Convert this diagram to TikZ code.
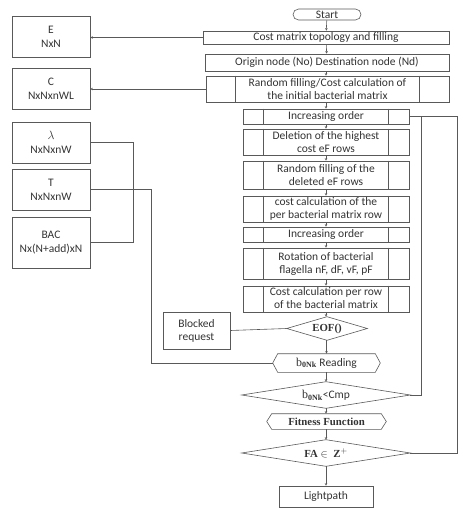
\documentclass[tikz,border=0pt]{standalone}
\usepackage{fontspec}
\setmainfont{Carlito}
\newfontfamily\serifb{Liberation Serif}
\usetikzlibrary{arrows.meta}
\definecolor{linec}{gray}{0.35}
\definecolor{txtc}{gray}{0.2}
\newcommand{\bnk}{{\serifb\fontsize{12}{13}\selectfont b\textsubscript{\bfseries 0Nk}}}
\begin{document}
\begin{tikzpicture}[x=1pt,y=-1pt,line width=0.6pt,
  every node/.style={font=\fontsize{11.5}{13}\selectfont,align=center,inner sep=0pt,text=txtc},
  box/.style={draw=linec,rectangle},
  ghost/.style={rectangle},
  conn/.style={draw=linec},
  sb/.style={font=\serifb\bfseries\fontsize{10.8}{12}\selectfont},
  arr/.style={draw=linec,-{Stealth[length=2.6pt,width=2.6pt]}},
  sbox/.style={box,minimum width=78pt,font=\fontsize{11.5}{14}\selectfont}]
\useasboundingbox (0,0) rectangle (474,518);

% left data boxes
\node[sbox,minimum height=41pt] (E) at (51,36.5) {E\\NxN};
\node[sbox,minimum height=41pt] (C) at (51,88.5) {C\\NxNxnWL};
\node[sbox,minimum height=41pt] (lam) at (51,142.5) {$\lambda$\\NxNxnW};
\node[sbox,minimum height=41pt] (T) at (51,189.5) {T\\NxNxnW};
\node[sbox,minimum height=51pt] (bac) at (51,242.5) {BAC\\Nx(N+add)xN};

% main flow
\node[box,rounded corners=5.5pt,minimum width=68pt,minimum height=11pt] (start) at (327,14.5) {Start};
\node[box,minimum width=246pt,minimum height=13pt] (cost) at (326,37.5) {Cost matrix topology and filling};
\node[box,minimum width=244pt,minimum height=17pt] (orig) at (327,62.5) {Origin node (No) Destination node (Nd)};
\node[box,minimum width=243pt,minimum height=26pt] (rand) at (327.5,89) {Random filling/Cost calculation of\\the initial bacterial matrix};
\node[box,minimum width=166pt,minimum height=15pt] (inc1) at (326,116.5) {Increasing order};
\node[box,minimum width=166pt,minimum height=26pt] (del) at (326,142) {Deletion of the highest\\cost eF rows};
\node[box,minimum width=166pt,minimum height=28pt] (rfd) at (326,175) {Random filling of the\\deleted eF rows};
\node[box,minimum width=166pt,minimum height=24pt] (cc) at (326,209) {\raisebox{-1.5pt}{\begin{tabular}{@{}c@{}}cost calculation of the\\per bacterial matrix row\end{tabular}}};
\node[box,minimum width=166pt,minimum height=15pt] (inc2) at (326,234.5) {Increasing order};
\node[box,minimum width=166pt,minimum height=31pt] (rot) at (326,263.5) {Rotation of bacterial\\flagella nF, dF, vF, pF};
\node[box,minimum width=166pt,minimum height=24pt] (ccr) at (326,299) {\raisebox{-1.5pt}{\begin{tabular}{@{}c@{}}Cost calculation per row\\of the bacterial matrix\end{tabular}}};
\node[ghost,sb,minimum width=80pt,minimum height=23pt] (eof) at (327,328.5) {EOF()};
\node[box,minimum width=67pt,minimum height=37pt] (blk) at (196.5,330.5) {Blocked\\request};
\node[ghost,minimum width=107pt,minimum height=18pt] (read) at (326.5,363) {\bnk\ Reading};
\node[ghost,minimum width=168pt,minimum height=26pt] (cmp) at (326,395) {\bnk{}<Cmp};
\node[ghost,sb,minimum width=119pt,minimum height=15pt] (fit) at (326.5,421.5) {Fitness Function};
\node[ghost,sb,minimum width=168pt,minimum height=26pt] (fa) at (326,453) {FA $\in$\ \ Z$^{+}$};
\node[box,minimum width=94pt,minimum height=21pt] (light) at (326,496.5) {Lightpath};

% inner bars of the process boxes
\foreach \n/\d in {rand/30,inc1/21,del/21,rfd/21,cc/21,inc2/21,rot/21,ccr/21}{
  \draw[linec] ([xshift=\d pt]\n.north west) -- ([xshift=\d pt]\n.south west);
  \draw[linec] ([xshift=-\d pt]\n.north east) -- ([xshift=-\d pt]\n.south east);
}

% diamonds
\foreach \n in {eof,cmp,fa}{
  \draw[linec] (\n.north) -- (\n.east) -- (\n.south) -- (\n.west) -- cycle;
}
% hexagons
\foreach \n in {read,fit}{
  \draw[linec] (\n.west) -- ([xshift=5pt]\n.north west) -- ([xshift=-5pt]\n.north east) -- (\n.east)
     -- ([xshift=-5pt]\n.south east) -- ([xshift=5pt]\n.south west) -- cycle;
}

% vertical flow
\draw[arr] (start) -- (cost);
\draw[arr] (cost) -- (orig);
\draw[arr] (orig.south -| cost) -- (rand.north -| cost);
\draw[arr] (rand.south -| cost) -- (inc1);
\draw[arr] (inc1) -- (del);
\draw[arr] (del) -- (rfd);
\draw[arr] (rfd) -- (cc);
\draw[arr] (cc) -- (inc2);
\draw[arr] (inc2) -- (rot);
\draw[arr] (rot) -- (ccr);
\draw[arr] (ccr.south) -- (eof.north -| ccr);
\draw[arr] (eof.south -| read) -- (read.north);
\draw[arr] (read.south -| cmp) -- (cmp.north);
\draw[arr] (cmp.south) -- (fit.north -| cmp);
\draw[arr] (fit.south -| fa) -- (fa.north);
\draw[arr] (fa) -- (light);

% data links
\draw[arr] (cost.west) -- (cost.west -| E.east);
\draw[arr] (rand.west) -- (rand.west -| C.east);
\draw[conn] (lam.east) -- ([xshift=43pt]lam.east) |- (bac.east);
\draw[conn] (T.east) -- ([xshift=61pt]T.east) |- (read.west);
\draw[conn] (blk.east) -- (eof.west);

% loops
\coordinate (j1) at ([xshift=12pt]inc1.east);
\draw[conn] (inc1.east) -- ([xshift=48pt]inc1.east) |- (fa.east);
\draw[conn] (cmp.east) -| (j1);
\end{tikzpicture}
\end{document}
